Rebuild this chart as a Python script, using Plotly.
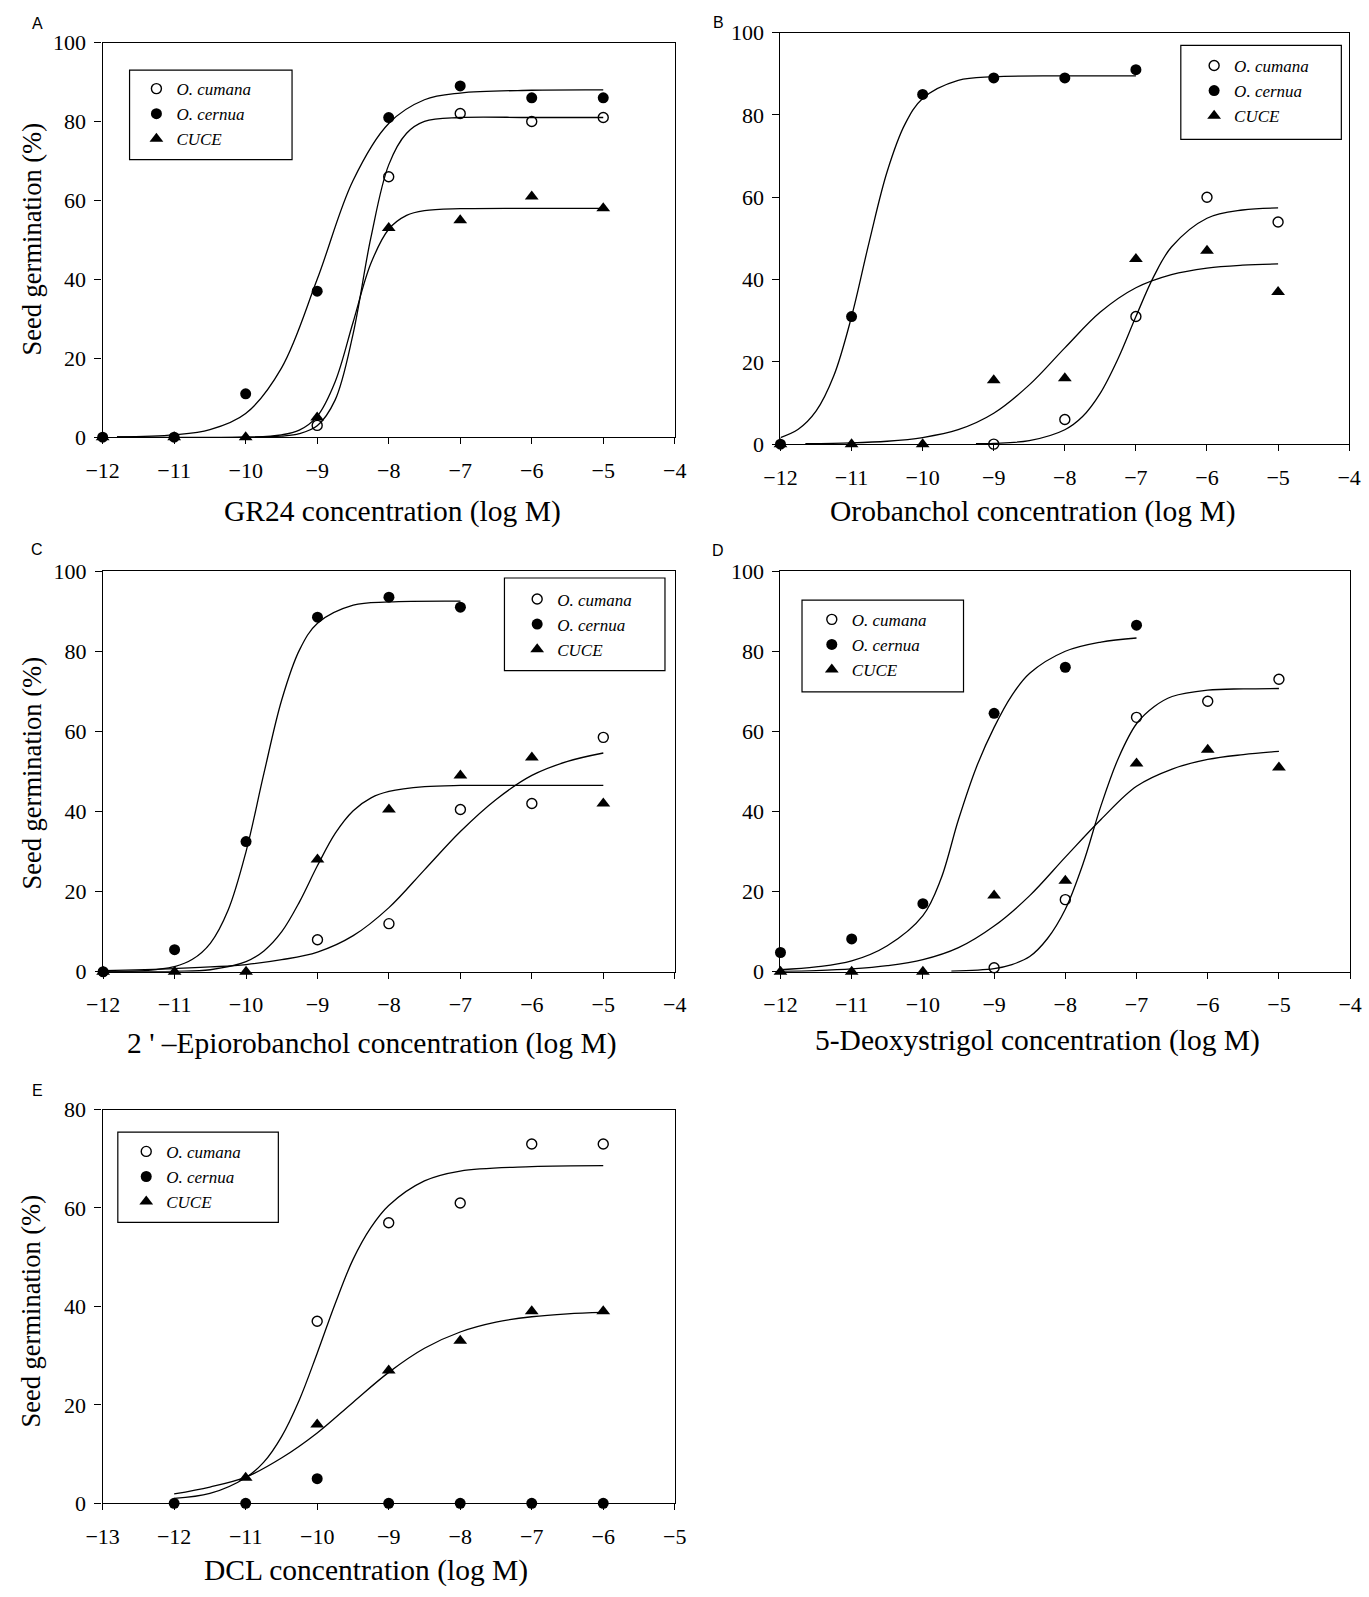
import plotly.graph_objects as go

W, H = 1369, 1597
SERIF = "Liberation Serif, Times New Roman, serif"
SANS = "Liberation Sans, Arial, sans-serif"

SERIES = ["O. cumana", "O. cernua", "CUCE"]

# ---------------- Panel A : GR24 ----------------
A_x_cumana = [-9, -8, -7, -6, -5]
A_cumana = [3, 66, 82, 80, 81]
A_x_cernua = [-12, -11, -10, -9, -8, -7, -6, -5]
A_cernua = [0, 0, 11, 37, 81, 89, 86, 86]
A_x_cuce = [-12, -11, -10, -9, -8, -7, -6, -5]
A_cuce = [0, 0, 0, 5, 53, 55, 61, 58]
A_fitx_cumana = [-11.8, -10, -9.5, -9.25, -9, -8.75, -8.5, -8.25, -8, -7.75, -7.5, -7, -6, -5]
A_fit_cumana = [0, 0, 0.3, 0.9, 2.9, 9.4, 26, 50.5, 69, 77, 80, 81, 81, 81]
A_fitx_cernua = [-11.8, -11, -10.5, -10, -9.5, -9, -8.5, -8, -7.5, -7, -6, -5]
A_fit_cernua = [0.1, 0.6, 1.9, 6, 17.5, 40, 65, 79.5, 85.5, 87.2, 87.9, 88]
A_fitx_cuce = [-11.8, -10, -9.5, -9.25, -9, -8.75, -8.5, -8.25, -8, -7.75, -7.5, -7, -6, -5]
A_fit_cuce = [0, 0, 0.6, 1.8, 5.3, 14, 29, 44, 52.7, 56.2, 57.4, 57.9, 58, 58]

# ---------------- Panel B : Orobanchol ----------------
B_x_cumana = [-9, -8, -7, -6, -5]
B_cumana = [0, 6, 31, 60, 54]
B_x_cernua = [-12, -11, -10, -9, -8, -7]
B_cernua = [0, 31, 85, 89, 89, 91]
B_x_cuce = [-12, -11, -10, -9, -8, -7, -6, -5]
B_cuce = [0, 0, 0, 15.5, 16, 45, 47, 37]
B_fitx_cumana = [-9.25, -9, -8.5, -8, -7.75, -7.5, -7.25, -7, -6.75, -6.5, -6, -5.5, -5]
B_fit_cumana = [0.1, 0.2, 0.85, 3.5, 6.7, 12.4, 20.8, 31, 40.7, 47.9, 54.9, 56.9, 57.4]
B_fitx_cernua = [-12, -11.75, -11.5, -11.25, -11, -10.75, -10.5, -10.25, -10, -9.5, -9, -8, -7]
B_fit_cernua = [1.6, 3.6, 8, 16.6, 31, 49.3, 66.2, 77.7, 84, 88.4, 89.3, 89.5, 89.5]
B_fitx_cuce = [-11.65, -11, -10.5, -10, -9.5, -9, -8.5, -8, -7.5, -7, -6.5, -6, -5.5, -5]
B_fit_cuce = [0.1, 0.3, 0.7, 1.6, 3.5, 7.5, 14.4, 23.4, 32.1, 38, 41.2, 42.8, 43.5, 43.8]

# ---------------- Panel C : 2'-Epiorobanchol ----------------
C_x_cumana = [-9, -8, -7, -6, -5]
C_cumana = [8, 12, 40.5, 42, 58.5]
C_x_cernua = [-12, -11, -10, -9, -8, -7]
C_cernua = [0, 5.5, 32.5, 88.5, 93.5, 91]
C_x_cuce = [-12, -11, -10, -9, -8, -7, -6, -5]
C_cuce = [0, 0, 0, 28, 40.5, 49, 53.5, 42]
C_fitx_cumana = [-12, -11, -10, -9.5, -9, -8.5, -8, -7.5, -7, -6.5, -6, -5.5, -5]
C_fit_cumana = [0.3, 0.8, 1.8, 3, 4.9, 9, 16, 25.5, 35, 43, 49, 52.5, 54.6]
C_fitx_cernua = [-12, -11.5, -11, -10.75, -10.5, -10.25, -10, -9.75, -9.5, -9.25, -9, -8.5, -8, -7]
C_fit_cernua = [0, 0.2, 1.3, 3.1, 7.1, 15.4, 30, 49.5, 67.9, 80.4, 87, 91.5, 92.3, 92.5]
C_fitx_cuce = [-12, -11, -10.5, -10, -9.75, -9.5, -9.25, -9, -8.75, -8.5, -8.25, -8, -7.5, -7, -6, -5]
C_fit_cuce = [0, 0.1, 0.5, 2.5, 5.2, 10, 17.5, 26.5, 34.6, 40.2, 43.4, 45, 46.2, 46.5, 46.5, 46.5]

# ---------------- Panel D : 5-Deoxystrigol ----------------
D_x_cumana = [-9, -8, -7, -6, -5]
D_cumana = [1, 18, 63.5, 67.5, 73]
D_x_cernua = [-12, -11, -10, -9, -8, -7]
D_cernua = [4.8, 8.2, 17, 64.5, 76, 86.5]
D_x_cuce = [-12, -11, -10, -9, -8, -7, -6, -5]
D_cuce = [0, 0, 0, 19, 22.7, 52, 55.4, 51]
D_fitx_cumana = [-9.6, -9, -8.75, -8.5, -8.25, -8, -7.75, -7.5, -7.25, -7, -6.75, -6.5, -6, -5.5, -5]
D_fit_cumana = [0.15, 0.8, 1.8, 3.8, 8.3, 15.6, 27, 41.4, 53.5, 61.9, 66.2, 68.7, 70.3, 70.6, 70.7]
D_fitx_cernua = [-12, -11.5, -11, -10.5, -10, -9.75, -9.5, -9.25, -9, -8.75, -8.5, -8, -7.5, -7]
D_fit_cernua = [0.5, 1.2, 2.7, 6.5, 14, 23, 38, 51, 61, 69, 74.5, 80, 82.3, 83.3]
D_fitx_cuce = [-12, -11.5, -11, -10.5, -10, -9.5, -9, -8.5, -8, -7.5, -7, -6.5, -6, -5.5, -5]
D_fit_cuce = [0.1, 0.3, 0.7, 1.5, 3, 6, 11.4, 19, 28.6, 38, 46.3, 50.6, 53, 54.2, 55]

# ---------------- Panel E : DCL ----------------
E_x_cumana = [-10, -9, -8, -7, -6]
E_cumana = [37, 57, 61, 73, 73]
E_x_cernua = [-12, -11, -10, -9, -8, -7, -6]
E_cernua = [0, 0, 5, 0, 0, 0, 0]
E_x_cuce = [-11, -10, -9, -8, -7, -6]
E_cuce = [5.2, 16, 27, 33, 39, 39]
E_fitx_cumana = [-12, -11.5, -11, -10.75, -10.5, -10.25, -10, -9.75, -9.5, -9.25, -9, -8.5, -8, -7, -6]
E_fit_cumana = [1, 2, 5.2, 8.3, 13.5, 21, 30.5, 40.5, 49.5, 56, 60.5, 65.5, 67.5, 68.4, 68.6]
E_fitx_cuce = [-12, -11.5, -11, -10.5, -10, -9.5, -9, -8.5, -8, -7.5, -7, -6.5, -6]
E_fit_cuce = [1.9, 3.3, 5.3, 9.2, 14.3, 20.5, 26.6, 31.5, 34.8, 36.8, 37.9, 38.5, 38.8]

X_TITLES = {
    "A": "GR24 concentration (log M)",
    "B": "Orobanchol concentration (log M)",
    "C": "2 ' \u2013Epiorobanchol concentration (log M)",
    "D": "5-Deoxystrigol concentration (log M)",
    "E": "DCL concentration (log M)",
}
Y_TITLE = "Seed germination (%)"

DATA = {
    "A": dict(pts=[(A_x_cumana, A_cumana), (A_x_cernua, A_cernua), (A_x_cuce, A_cuce)],
              fits=[(A_fitx_cumana, A_fit_cumana), (A_fitx_cernua, A_fit_cernua), (A_fitx_cuce, A_fit_cuce)]),
    "B": dict(pts=[(B_x_cumana, B_cumana), (B_x_cernua, B_cernua), (B_x_cuce, B_cuce)],
              fits=[(B_fitx_cumana, B_fit_cumana), (B_fitx_cernua, B_fit_cernua), (B_fitx_cuce, B_fit_cuce)]),
    "C": dict(pts=[(C_x_cumana, C_cumana), (C_x_cernua, C_cernua), (C_x_cuce, C_cuce)],
              fits=[(C_fitx_cumana, C_fit_cumana), (C_fitx_cernua, C_fit_cernua), (C_fitx_cuce, C_fit_cuce)]),
    "D": dict(pts=[(D_x_cumana, D_cumana), (D_x_cernua, D_cernua), (D_x_cuce, D_cuce)],
              fits=[(D_fitx_cumana, D_fit_cumana), (D_fitx_cernua, D_fit_cernua), (D_fitx_cuce, D_fit_cuce)]),
    "E": dict(pts=[(E_x_cumana, E_cumana), (E_x_cernua, E_cernua), (E_x_cuce, E_cuce)],
              fits=[(E_fitx_cumana, E_fit_cumana), None, (E_fitx_cuce, E_fit_cuce)]),
}

# ---------------- layout geometry (pixels) ----------------
LAYOUT = {
    "A": dict(n="", xd=(87.5, 672), yd=(31, 432), xr=[-12, -4], yr=[0, 100],
              box=(115, 281, 59, 150), leg=(122, 60), letter=(21, 12),
              xt=(384, 507), yt=(15.5, 231)),
    "B": dict(n="2", xd=(780, 1361), yd=(21, 439), xr=[-12, -4], yr=[0, 100],
              box=(1189, 1353, 34, 129.5), leg=(1202.6, 36.5), letter=(717, 11),
              xt=(1038, 507), yt=None),
    "C": dict(n="3", xd=(88, 672), yd=(568, 975), xr=[-12, -4], yr=[0, 100],
              box=(498, 662, 575, 669), leg=(511, 578.5), letter=(20.5, 546),
              xt=(362, 1048), yt=(15, 773)),
    "D": dict(n="4", xd=(780, 1362), yd=(568, 975), xr=[-12, -4], yr=[0, 100],
              box=(802, 967, 597.5, 690.6), leg=(812, 599.2), letter=(716, 547.5),
              xt=(1043, 1045), yt=None),
    "E": dict(n="5", xd=(87.5, 672), yd=(1115, 1515), xr=[-13, -5], yr=[0, 80],
              box=(103, 267, 1138, 1229.6), leg=(111.6, 1139.7), letter=(21, 1095.5),
              xt=(357, 1583), yt=(14.5, 1320)),
}

MARKERS = [
    dict(symbol="circle-open", size=10, color="black", line=dict(color="black", width=1.4)),
    dict(symbol="circle", size=11, color="black", line=dict(width=0)),
    dict(symbol="triangle-up", size=12, color="black", line=dict(width=0)),
]


def fx(p):
    return p / W


def fy(p):
    return 1 - p / H


fig = go.Figure()
shapes = []
annotations = []
layout_axes = {}

for key in ["A", "B", "C", "D", "E"]:
    g = LAYOUT[key]
    n = g["n"]
    xa, ya = "x" + n, "y" + n
    legname = "legend" + n
    d = DATA[key]
    for fit in d["fits"]:
        if fit is None:
            continue
        fig.add_trace(go.Scatter(
            x=fit[0], y=fit[1], mode="lines", xaxis=xa, yaxis=ya,
            line=dict(color="black", width=1.3, shape="spline", smoothing=1.0),
            showlegend=False, hoverinfo="skip", cliponaxis=False))
    for i, (px_, py_) in enumerate(d["pts"]):
        fig.add_trace(go.Scatter(
            x=px_, y=py_, mode="markers", name=SERIES[i], xaxis=xa, yaxis=ya,
            marker=MARKERS[i], legend=legname, showlegend=True, cliponaxis=False))

    common = dict(showline=True, linecolor="black", linewidth=1.4, mirror=True,
                  ticks="outside", tickcolor="black", tickwidth=1.4,
                  showgrid=False, zeroline=False, fixedrange=True,
                  tickfont=dict(family=SERIF, size=22, color="black"))
    layout_axes["xaxis" + n] = dict(common, domain=[fx(g["xd"][0]), fx(g["xd"][1])],
                                   range=g["xr"], dtick=1, tick0=g["xr"][0], ticklen=6,
                                   anchor=ya, ticklabelstandoff=7)
    layout_axes["yaxis" + n] = dict(common, domain=[fy(g["yd"][1]), fy(g["yd"][0])],
                                   range=g["yr"], dtick=20, tick0=0, ticklen=7,
                                   anchor=xa, ticklabelstandoff=4)

    x0, x1, y0, y1 = g["box"]
    shapes.append(dict(type="rect", xref="paper", yref="paper",
                       x0=fx(x0), x1=fx(x1), y0=fy(y1), y1=fy(y0),
                       line=dict(color="black", width=1.2), fillcolor="rgba(0,0,0,0)"))
    layout_axes[legname] = dict(x=fx(g["leg"][0]), y=fy(g["leg"][1]), xanchor="left", yanchor="top",
                                xref="paper", yref="paper", bgcolor="rgba(0,0,0,0)", borderwidth=0,
                                traceorder="normal",
                                font=dict(family=SERIF, size=17, color="black", style="italic"))

    annotations.append(dict(text=key, x=fx(g["letter"][0]), y=fy(g["letter"][1]),
                            xref="paper", yref="paper", xanchor="center", yanchor="middle",
                            showarrow=False, font=dict(family=SANS, size=16, color="black")))
    annotations.append(dict(text=X_TITLES[key], x=fx(g["xt"][0]), y=fy(g["xt"][1]),
                            xref="paper", yref="paper", xanchor="center", yanchor="middle",
                            showarrow=False, font=dict(family=SERIF, size=29.5, color="black")))
    if g["yt"] is not None:
        annotations.append(dict(text=Y_TITLE, x=fx(g["yt"][0]), y=fy(g["yt"][1]),
                                xref="paper", yref="paper", xanchor="center", yanchor="middle",
                                textangle=-90, showarrow=False,
                                font=dict(family=SERIF, size=26.5, color="black")))

fig.update_layout(
    width=W, height=H, margin=dict(l=0, r=0, t=0, b=0, pad=0),
    paper_bgcolor="white", plot_bgcolor="white",
    shapes=shapes, annotations=annotations, showlegend=True,
    **layout_axes,
)

fig.write_html("out.html", config={"displayModeBar": False},
               post_script="document.body.style.margin='0';")
